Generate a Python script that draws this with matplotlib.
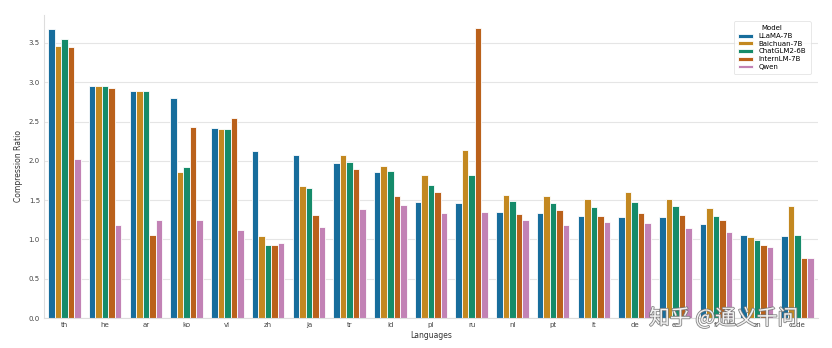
import matplotlib
matplotlib.use("Agg")
import matplotlib.pyplot as plt
import matplotlib.patheffects as pe
import numpy as np
import seaborn as sns

languages = ["th", "he", "ar", "ko", "vi", "zh", "ja", "tr", "id", "pl",
             "ru", "nl", "pt", "it", "de", "es", "fr", "en", "code"]
models = ["LLaMA-7B", "Baichuan-7B", "ChatGLM2-6B", "InternLM-7B", "Qwen"]

llama    = [3.68, 2.95, 2.89, 2.80, 2.42, 2.13, 2.07, 1.97, 1.86, 1.48,
            1.46, 1.35, 1.34, 1.30, 1.29, 1.28, 1.20, 1.06, 1.05]
baichuan = [3.46, 2.95, 2.89, 1.86, 2.41, 1.05, 1.68, 2.07, 1.94, 1.82,
            2.14, 1.56, 1.55, 1.51, 1.60, 1.515, 1.40, 1.03, 1.43]
chatglm  = [3.55, 2.95, 2.89, 1.92, 2.40, 0.925, 1.66, 1.985, 1.87, 1.69,
            1.82, 1.485, 1.46, 1.41, 1.48, 1.425, 1.30, 0.99, 1.06]
internlm = [3.45, 2.93, 1.06, 2.43, 2.55, 0.925, 1.315, 1.90, 1.55, 1.60,
            3.69, 1.32, 1.37, 1.30, 1.34, 1.31, 1.25, 0.925, 0.77]
qwen     = [2.02, 1.18, 1.25, 1.25, 1.12, 0.95, 1.16, 1.39, 1.44, 1.34,
            1.35, 1.25, 1.19, 1.22, 1.205, 1.145, 1.095, 0.91, 0.765]

series = [llama, baichuan, chatglm, internlm, qwen]
base_colors = ["#0173b2", "#de8f05", "#029e73", "#d55e00", "#cc78bc"]
colors = [sns.desaturate(c, 0.75) for c in base_colors]

fig = plt.figure(figsize=(8.32, 3.48), dpi=100)
ax = fig.add_axes([0.053, 0.086, 0.93, 0.872])

x = np.arange(len(languages))
n = len(models)
w = 0.8 / n
for i, (vals, c, m) in enumerate(zip(series, colors, models)):
    ax.bar(x - 0.4 + w * (i + 0.5), vals, width=w, color=c, label=m,
           edgecolor="white", linewidth=0.6, zorder=2)

ax.set_xlim(-0.5, len(languages) - 0.5)
ax.set_ylim(0, 3.86)
ax.set_xticks(x)
ax.set_xticklabels(languages)
ax.set_yticks(np.arange(0, 3.51, 0.5))
ax.tick_params(axis="both", labelsize=5, colors="#444444", length=0, pad=3)
ax.grid(axis="y", color="#e5e5e5", linewidth=0.8, zorder=0)
ax.set_axisbelow(True)
for s in ["top", "right"]:
    ax.spines[s].set_visible(False)
for s in ["left", "bottom"]:
    ax.spines[s].set_color("#dddddd")
    ax.spines[s].set_linewidth(0.8)
ax.set_xlabel("Languages", fontsize=5.5, color="#333333", labelpad=2)
ax.set_ylabel("Compression Ratio", fontsize=5.5, color="#333333", labelpad=4)

leg = ax.legend(title="Model", loc="upper right", fontsize=5, title_fontsize=5,
                frameon=True, borderpad=0.6, handlelength=2.2, handleheight=0.5,
                labelspacing=0.25, bbox_to_anchor=(0.995, 0.99))
leg.get_frame().set_edgecolor("#dddddd")
leg.get_frame().set_linewidth(0.6)

fig.text(0.87, 0.085, "知乎 @通义千问", fontsize=15, color="white",
         family=["Noto Sans CJK SC", "DejaVu Sans"], ha="center", va="center",
         alpha=0.9,
         path_effects=[pe.withStroke(linewidth=1.2, foreground="#777777")])

fig.savefig("out.png", dpi=100)
